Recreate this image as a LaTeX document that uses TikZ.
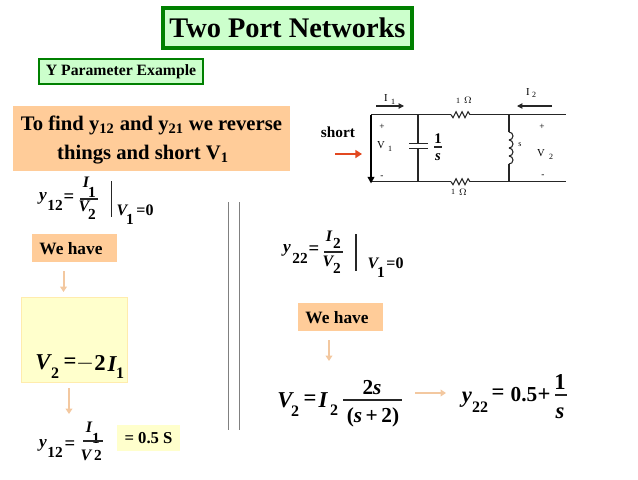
\documentclass[tikz,border=0pt]{standalone}
\usepackage{fontspec}
\setmainfont{Liberation Serif}
\usetikzlibrary{arrows.meta}
\definecolor{boxgreen}{RGB}{204,255,204}
\definecolor{linegreen}{RGB}{0,128,0}
\definecolor{boxorange}{RGB}{255,204,153}
\definecolor{boxyellow}{RGB}{255,255,204}
\definecolor{softarrow}{RGB}{243,200,160}
\definecolor{shortred}{RGB}{226,72,32}
\tikzset{
    lbl/.style  = {inner sep=0pt, font=\bfseries\fontsize{#1}{#1}\selectfont},
    sym/.style  = {inner sep=0pt, font=\bfseries\itshape\fontsize{#1}{#1}\selectfont},
    thin lbl/.style = {inner sep=0pt, font=\fontsize{#1}{#1}\selectfont},
    softline/.style = {softarrow, line width=1.5pt, -{Triangle[length=4pt,width=5pt]}},
    wire/.style = {line width=0.8pt, black!85},
    resist/.pic = {
        \draw[wire] (-9.5,0) -- (-7.5,-3) -- (-4.5,3) -- (-1.5,-3) -- (1.5,3) -- (4.5,-3) -- (7.5,3) -- (9.5,0);
    },
}
\begin{document}
\begin{tikzpicture}[
    x=0.75pt,y=0.75pt,
    yscale=-1,xscale=1,
]
    \useasboundingbox (0,0) rectangle (638,479);

    % boxes
    \node [draw=linegreen, line width=3pt, fill=boxgreen, minimum width=187pt, minimum height=30pt, inner sep=0pt, lbl=21.3] (title) at (287.5,27.5) {Two Port Networks};
    \node [draw=linegreen, line width=1.5pt, fill=boxgreen, minimum width=123pt, minimum height=19pt, inner sep=0pt, lbl=11.8] (ypar) at (121,71.5) {Y Parameter Example};
    \node [fill=boxorange, minimum width=207.5pt, minimum height=48.7pt, inner sep=0pt] (find) at (151.3,138.5) {};
    \node [lbl=15.5] (findA) at (151.5,125) {To find y\textsubscript{12} and y\textsubscript{21} we reverse};
    \node [lbl=15.5] (findB) at (143,155) {things and short V\textsubscript{1}};
    \node [fill=boxorange, minimum width=63.75pt, minimum height=21pt, inner sep=0pt] (haveA) at (74.5,248) {};
    \node [lbl=13] (haveAt) at (71,248.5) {We have};
    \node [fill=boxorange, minimum width=63.75pt, minimum height=21pt, inner sep=0pt] (haveB) at (340.5,317) {};
    \node [lbl=13] (haveBt) at (337,318) {We have};
    \node [draw=boxyellow!85!orange, line width=0.3pt, fill=boxyellow, minimum width=79.5pt, minimum height=64pt, inner sep=0pt] (given) at (74.5,340) {};
    \node [fill=boxyellow, minimum width=47pt, minimum height=19.5pt, inner sep=0pt, lbl=12.5] (half) at (148.5,438) {= 0.5 S};

    % y12 top
    \node [sym=13] (ya) at (43,198) {y};
    \node [lbl=11.5] (yaS) at (55,205) {12};
    \node [lbl=14] (yaE) at (69,198) {=};
    \node [sym=12] (yaI) at (86,182) {I};
    \node [lbl=11.5] (yaIs) at (92,192) {1};
    \node [sym=12] (yaV) at (84,206) {V};
    \node [lbl=11.5] (yaVs) at (92,214) {2};
    \draw [wire] (80,199) -- (98,199);
    \draw [wire] (111.7,181) -- (111.7,217);
    \node [sym=12] (yaC) at (122,210) {V};
    \node [lbl=11.5] (yaCs) at (130,219) {1};
    \node [lbl=12] (yaZ) at (145,210) {=0};

    % V2 = -2I1
    \node [sym=17] (vb) at (43,362) {V};
    \node [lbl=12] (vbS) at (55,373) {2};
    \node [lbl=17] (vbE) at (70,363) {=};
    \node [lbl=17] (vbM) at (85,364) {$-$};
    \node [lbl=17] (vbT) at (100,363) {2};
    \node [sym=17] (vbI) at (112,364) {I};
    \node [lbl=12] (vbIs) at (120,373) {1};

    % y12 bottom
    \node [sym=13] (yc) at (43,445) {y};
    \node [lbl=11.5] (ycS) at (55,452) {12};
    \node [lbl=14] (ycE) at (70,445) {=};
    \node [sym=12] (ycI) at (89,427) {I};
    \node [lbl=11.5] (ycIs) at (96,438) {1};
    \node [sym=12] (ycV) at (86,455) {V};
    \node [lbl=11.5] (ycVs) at (98,455) {2};
    \draw [wire] (83,441) -- (103,441);

    % y22 top
    \node [sym=13] (yd) at (287,250) {y};
    \node [lbl=11.5] (ydS) at (300,258) {22};
    \node [lbl=14] (ydE) at (314,250) {=};
    \node [sym=12] (ydI) at (329,236) {I};
    \node [lbl=11.5] (ydIs) at (337,243) {2};
    \node [sym=12] (ydV) at (328,261) {V};
    \node [lbl=11.5] (ydVs) at (337,268) {2};
    \draw [wire] (324,252) -- (343,252);
    \draw [wire] (356,234) -- (356,271);
    \node [sym=12] (ydC) at (373,263) {V};
    \node [lbl=11.5] (ydCs) at (381,272) {1};
    \node [lbl=12] (ydZ) at (395,263) {=0};

    % V2 = I2 2s/(s+2)
    \node [sym=17] (ve) at (285,400) {V};
    \node [lbl=12] (veS) at (295,411) {2};
    \node [lbl=17] (veE) at (310,400) {=};
    \node [sym=17] (veI) at (323,400) {I};
    \node [lbl=12] (veIs) at (334,410) {2};
    \node [lbl=16] (veT) at (372,388) {2\textit{s}};
    \draw [wire] (343,400) -- (402,400);
    \node [lbl=16] (veB) at (373,417) {(\textit{s}\,+\,2)};

    % y22 = 0.5 + 1/s
    \node [sym=17] (yf) at (467,400) {y};
    \node [lbl=12] (yfS) at (480,407) {22};
    \node [lbl=17] (yfE) at (498,394) {=};
    \node [lbl=16] (yfN) at (524,395) {0.5};
    \node [lbl=17] (yfP) at (544,395) {+};
    \node [lbl=17] (yfO) at (560,382) {1};
    \draw [wire] (555,395) -- (567,395);
    \node [sym=17] (yfD) at (560,413) {s};

    % arrows
    \coordinate (arA) at (63.5,271);
    \coordinate (arB) at (63.5,292);
    \coordinate (arC) at (69,388);
    \coordinate (arD) at (69,414);
    \coordinate (arE) at (329,340);
    \coordinate (arF) at (329,361);
    \coordinate (arG) at (415,393);
    \coordinate (arH) at (446,393);
    \draw [softline] (arA) -- (arB);
    \draw [softline] (arC) -- (arD);
    \draw [softline] (arE) -- (arF);
    \draw [softline] (arG) -- (arH);

    % double rule
    \draw [gray, line width=0.6pt] (228.7,202) -- (228.7,430);
    \draw [gray, line width=0.6pt] (239.3,202) -- (239.3,430);

    % circuit
    \coordinate (tl) at (371,114.7);
    \coordinate (bl) at (371,181.7);
    \coordinate (tr) at (566,114.7);
    \coordinate (br) at (566,181.7);
    \draw [wire] (tl) -- (451,114.7);
    \draw [wire] (470,114.7) -- (tr);
    \draw [wire] (bl) -- (451,181.7);
    \draw [wire] (470,181.7) -- (br);
    \pic at (460.5,114.7) {resist};
    \pic at (460.5,181.7) {resist};
    \draw [line width=1.3pt, black, -{Triangle[length=5pt,width=5pt]}] (tl) -- (371,183.5);
    % capacitor
    \draw [wire] (418,114.7) -- (418,143.3);
    \draw [wire] (418,148.7) -- (418,181.7);
    \draw [wire] (409,143.3) -- (428,143.3);
    \draw [wire] (409,148.7) -- (428,148.7);
    % inductor
    \draw [wire] (509,114.7) -- (509,132);
    \foreach \k in {0,1,2,3}
        \draw [wire] (509,132+8*\k) arc (-90:90:4);
    \draw [wire] (509,164) -- (509,181.7);

    % circuit labels
    \node [lbl=11.5] (short) at (338,132) {short};
    \coordinate (reA) at (335,154);
    \coordinate (reB) at (362,154);
    \draw [shortred, line width=1.5pt, -{Triangle[length=5pt,width=6pt]}] (reA) -- (reB);
    \coordinate (ioA) at (376,106);
    \coordinate (ioB) at (404,106);
    \coordinate (itA) at (552,106);
    \coordinate (itB) at (517,106);
    \draw [wire, -{Triangle[length=4pt,width=4pt]}] (ioA) -- (ioB);
    \draw [wire, -{Triangle[length=4pt,width=4pt]}] (itA) -- (itB);
    \node [thin lbl=8] (Ia) at (386,98) {I};
    \node [thin lbl=6] (IaS) at (393,102) {1};
    \node [thin lbl=8] (Ib) at (528,92) {I};
    \node [thin lbl=6] (IbS) at (534,95) {2};
    \node [thin lbl=6] (rAn) at (458,100.7) {1};
    \node [lbl=7] (rAo) at (468,100.7) {$\Omega$};
    \node [thin lbl=6] (rBn) at (453,192) {1};
    \node [lbl=7] (rBo) at (463,192) {$\Omega$};
    \node [thin lbl=7] (pa) at (382,127) {+};
    \node [thin lbl=8] (Va) at (381,145) {V};
    \node [thin lbl=6] (VaS) at (390,149.3) {1};
    \node [thin lbl=7] (ma) at (382,177) {-};
    \node [thin lbl=7] (pb) at (542,127) {+};
    \node [thin lbl=8] (Vb) at (541,153) {V};
    \node [thin lbl=6] (VbS) at (551,157) {2};
    \node [thin lbl=7] (mb) at (543,176) {-};
    \node [lbl=11] (capN) at (438,139) {1};
    \draw [wire] (434,147) -- (442,147);
    \node [sym=11] (capD) at (438,157) {s};
    \node [thin lbl=6] (indS) at (520,145) {s};
\end{tikzpicture}
\end{document}
